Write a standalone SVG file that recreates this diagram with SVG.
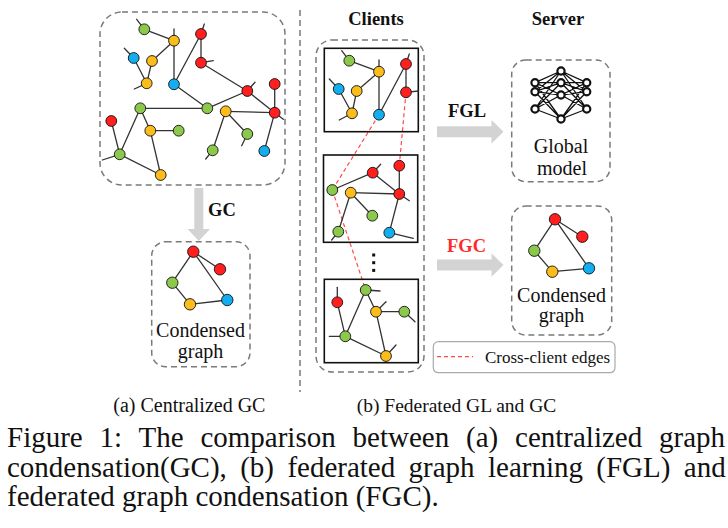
<svg xmlns="http://www.w3.org/2000/svg" width="728" height="528" viewBox="0 0 728 528">
<style>
  .e{stroke:#333;stroke-width:1.3;fill:none;stroke-linecap:round}
  .n{stroke:#111;stroke-width:0.9}
  .g{fill:#8cc84b}.y{fill:#fbbc1c}.r{fill:#ff1f1f}.b{fill:#13aef0}
  .dbox{fill:none;stroke:#7a7a7a;stroke-width:1.5;stroke-dasharray:6 4}
  .cbox{fill:none;stroke:#111;stroke-width:1.6}
  .arr{fill:#d3d3d3}
  .cross{stroke:#ff4a4a;stroke-width:1.2;stroke-dasharray:4 3;fill:none}
  .t{font-family:"Liberation Serif","Times New Roman",serif;fill:#111}
  .bold{font-weight:bold;font-size:18.5px}
  .lbl{font-size:20px}
  .nn{stroke:#111;stroke-width:1.3}
  .nc{fill:#fff;stroke:#111;stroke-width:2.2}
</style>

<!-- connectors -->
<g id="connectors">
  <path class="arr" d="M194.3,188 H203.3 V229 H210 L198.8,241 L187.6,229 H194.3 Z"/>
  <path class="arr" d="M437,126.2 H491.5 V120 L503.5,131.7 L491.5,143.4 V137.2 H437 Z"/>
  <path class="arr" d="M437,259.5 H491.5 V253.3 L503.5,265 L491.5,276.7 V270.5 H437 Z"/>
  <line class="cross" x1="379" y1="114.7" x2="332.3" y2="190"/>
  <line class="cross" x1="406" y1="92.3" x2="399.3" y2="165.7"/>
  <line class="cross" x1="332.3" y1="190" x2="365.7" y2="290"/>
</g>

<line x1="300" y1="10" x2="300" y2="392" stroke="#7a7a7a" stroke-width="1.5" stroke-dasharray="6 4"/>

<text class="t bold" x="376" y="25" text-anchor="middle">Clients</text>
<text class="t bold" x="558" y="25" text-anchor="middle">Server</text>
<text class="t bold" x="208" y="216">GC</text>
<text class="t bold" x="448" y="116.5">FGL</text>
<text class="t bold" x="447" y="251.5" style="fill:#ff2b2b">FGC</text>

<!-- centralized graph -->
<g id="centralized-graph">
  <rect class="dbox" x="100" y="12" width="185" height="173" rx="22"/>
  <g class="e">
    <line x1="144.3" y1="29.3" x2="174" y2="40.7"/>
    <line x1="144.3" y1="29.3" x2="136.7" y2="19.3"/>
    <line x1="174" y1="40.7" x2="174" y2="84.3"/>
    <line x1="174" y1="40.7" x2="174" y2="29"/>
    <line x1="174" y1="40.7" x2="152" y2="61"/>
    <line x1="152" y1="61" x2="146.7" y2="83.3"/>
    <line x1="133.7" y1="58" x2="146.7" y2="83.3"/>
    <line x1="133.7" y1="58" x2="124.3" y2="48.3"/>
    <line x1="146.7" y1="83.3" x2="134.3" y2="89"/>
    <line x1="201" y1="34" x2="204.3" y2="24"/>
    <line x1="201" y1="34" x2="201" y2="62.7"/>
    <line x1="201" y1="34" x2="174" y2="84.3"/>
    <line x1="201" y1="62.7" x2="213.3" y2="60.7"/>
    <line x1="201" y1="62.7" x2="247.3" y2="91"/>
    <line x1="247.3" y1="91" x2="255" y2="82.3"/>
    <line x1="247.3" y1="91" x2="207.3" y2="108.3"/>
    <line x1="174" y1="84.3" x2="207.3" y2="108.3"/>
    <line x1="247.3" y1="91" x2="274.7" y2="112.7"/>
    <line x1="274.7" y1="84" x2="274.7" y2="112.7"/>
    <line x1="274.7" y1="112.7" x2="283.3" y2="119.3"/>
    <line x1="140.3" y1="108.3" x2="207.3" y2="108.3"/>
    <line x1="225.7" y1="111.3" x2="274.7" y2="112.7"/>
    <line x1="225.7" y1="111.3" x2="247.3" y2="134"/>
    <line x1="225.7" y1="111.3" x2="212.7" y2="150.3"/>
    <line x1="247.3" y1="134" x2="241.7" y2="145.7"/>
    <line x1="212.7" y1="150.3" x2="205.7" y2="159"/>
    <line x1="264.3" y1="151" x2="274.7" y2="112.7"/>
    <line x1="140.3" y1="108.3" x2="150.3" y2="130.7"/>
    <line x1="140.3" y1="108.3" x2="119.7" y2="154.3"/>
    <line x1="111.3" y1="121" x2="119.7" y2="154.3"/>
    <line x1="150.3" y1="130.7" x2="178.7" y2="130.7"/>
    <line x1="150.3" y1="130.7" x2="160.7" y2="175"/>
    <line x1="119.7" y1="154.3" x2="160.7" y2="175"/>
    <line x1="119.7" y1="154.3" x2="102.3" y2="160"/>
  </g>
  <g class="n">
    <circle class="g" cx="144.3" cy="29.3" r="5.4"/>
    <circle class="y" cx="174" cy="40.7" r="5.4"/>
    <circle class="r" cx="201" cy="34" r="5.4"/>
    <circle class="b" cx="133.7" cy="58" r="5.4"/>
    <circle class="y" cx="152" cy="61" r="5.4"/>
    <circle class="r" cx="201" cy="62.7" r="5.4"/>
    <circle class="y" cx="146.7" cy="83.3" r="5.4"/>
    <circle class="b" cx="174" cy="84.3" r="5.4"/>
    <circle class="r" cx="247.3" cy="91" r="5.4"/>
    <circle class="r" cx="274.7" cy="84" r="5.4"/>
    <circle class="g" cx="140.3" cy="108.3" r="5.4"/>
    <circle class="g" cx="207.3" cy="108.3" r="5.4"/>
    <circle class="y" cx="225.7" cy="111.3" r="5.4"/>
    <circle class="r" cx="274.7" cy="112.7" r="5.4"/>
    <circle class="r" cx="111.3" cy="121" r="5.4"/>
    <circle class="y" cx="150.3" cy="130.7" r="5.4"/>
    <circle class="g" cx="178.7" cy="130.7" r="5.4"/>
    <circle class="g" cx="247.3" cy="134" r="5.4"/>
    <circle class="g" cx="119.7" cy="154.3" r="5.4"/>
    <circle class="g" cx="212.7" cy="150.3" r="5.4"/>
    <circle class="b" cx="264.3" cy="151" r="5.4"/>
    <circle class="y" cx="160.7" cy="175" r="5.4"/>
  </g>
</g>

<!-- condensed graph (centralized) -->
<g id="gc-condensed">
  <rect class="dbox" x="151.7" y="241.7" width="98.3" height="125" rx="14"/>
  <g class="e">
    <line x1="193.3" y1="251.7" x2="220" y2="269.3"/>
    <line x1="193.3" y1="251.7" x2="227.3" y2="300"/>
    <line x1="193.3" y1="251.7" x2="172.3" y2="282.7"/>
    <line x1="172.3" y1="282.7" x2="190" y2="304.3"/>
    <line x1="190" y1="304.3" x2="227.3" y2="300"/>
  </g>
  <g class="n">
    <circle class="r" cx="193.3" cy="251.7" r="5.7"/>
    <circle class="r" cx="220" cy="269.3" r="5.7"/>
    <circle class="g" cx="172.3" cy="282.7" r="5.7"/>
    <circle class="y" cx="190" cy="304.3" r="5.7"/>
    <circle class="b" cx="227.3" cy="300" r="5.7"/>
  </g>
  <text class="t lbl" x="200.5" y="336.5" text-anchor="middle">Condensed</text>
  <text class="t lbl" x="200.5" y="358" text-anchor="middle">graph</text>
</g>

<!-- clients -->
<g id="clients">
  <rect class="dbox" x="316" y="40" width="108" height="332" rx="16"/>
  <rect x="372.2" y="253.5" width="3" height="3" fill="#111"/>
  <rect x="372.2" y="261.2" width="3" height="3" fill="#111"/>
  <rect x="372.2" y="268.9" width="3" height="3" fill="#111"/>
</g>

<g id="client-1">
  <rect class="cbox" x="324.3" y="48.3" width="94" height="83.4"/>
  <g class="e">
    <line x1="349.3" y1="60.7" x2="341.7" y2="50.7"/>
    <line x1="349.3" y1="60.7" x2="379" y2="71.7"/>
    <line x1="379" y1="71.7" x2="379" y2="60"/>
    <line x1="379" y1="71.7" x2="379" y2="114.7"/>
    <line x1="379" y1="71.7" x2="356.7" y2="91"/>
    <line x1="356.7" y1="91" x2="352" y2="113.3"/>
    <line x1="338.7" y1="89" x2="352" y2="113.3"/>
    <line x1="338.7" y1="89" x2="329.3" y2="79"/>
    <line x1="352" y1="113.3" x2="339.3" y2="120"/>
    <line x1="406" y1="64" x2="409.3" y2="54"/>
    <line x1="406" y1="64" x2="406" y2="92.3"/>
    <line x1="406" y1="64" x2="379" y2="114.7"/>
    <line x1="406" y1="92.3" x2="418.3" y2="91"/>
  </g>
  <g class="n">
    <circle class="g" cx="349.3" cy="60.7" r="5.4"/>
    <circle class="y" cx="379" cy="71.7" r="5.4"/>
    <circle class="r" cx="406" cy="64" r="5.4"/>
    <circle class="b" cx="338.7" cy="89" r="5.4"/>
    <circle class="y" cx="356.7" cy="91" r="5.4"/>
    <circle class="r" cx="406" cy="92.3" r="5.4"/>
    <circle class="y" cx="352" cy="113.3" r="5.4"/>
    <circle class="b" cx="379" cy="114.7" r="5.4"/>
  </g>
</g>

<g id="client-2">
  <rect class="cbox" x="323.5" y="155" width="94.2" height="87.3"/>
  <g class="e">
    <line x1="372.7" y1="172.7" x2="380.7" y2="164.3"/>
    <line x1="332.3" y1="190" x2="372.7" y2="172.7"/>
    <line x1="372.7" y1="172.7" x2="399.3" y2="194"/>
    <line x1="399.3" y1="165.7" x2="399.3" y2="194"/>
    <line x1="350.7" y1="192.7" x2="399.3" y2="194"/>
    <line x1="399.3" y1="194" x2="409.3" y2="200.7"/>
    <line x1="350.7" y1="192.7" x2="372.3" y2="215.7"/>
    <line x1="350.7" y1="192.7" x2="338.3" y2="231.7"/>
    <line x1="338.3" y1="231.7" x2="331.7" y2="240"/>
    <line x1="399.3" y1="194" x2="389.3" y2="232.7"/>
    <line x1="389.3" y1="232.7" x2="413.3" y2="238.3"/>
  </g>
  <g class="n">
    <circle class="r" cx="372.7" cy="172.7" r="5.4"/>
    <circle class="r" cx="399.3" cy="165.7" r="5.4"/>
    <circle class="g" cx="332.3" cy="190" r="5.4"/>
    <circle class="y" cx="350.7" cy="192.7" r="5.4"/>
    <circle class="r" cx="399.3" cy="194" r="5.4"/>
    <circle class="g" cx="372.3" cy="215.7" r="5.4"/>
    <circle class="g" cx="338.3" cy="231.7" r="5.4"/>
    <circle class="b" cx="389.3" cy="232.7" r="5.4"/>
  </g>
</g>

<g id="client-3">
  <rect class="cbox" x="324.3" y="279.3" width="94" height="83.4"/>
  <g class="e">
    <line x1="365.7" y1="290" x2="380" y2="291"/>
    <line x1="337.3" y1="302.3" x2="337.3" y2="287.3"/>
    <line x1="337.3" y1="302.3" x2="345.3" y2="336.3"/>
    <line x1="365.7" y1="290" x2="345.3" y2="336.3"/>
    <line x1="365.7" y1="290" x2="376" y2="311.7"/>
    <line x1="376" y1="311.7" x2="386" y2="301.7"/>
    <line x1="376" y1="311.7" x2="404.3" y2="311.7"/>
    <line x1="404.3" y1="311.7" x2="415" y2="321.7"/>
    <line x1="376" y1="311.7" x2="386" y2="356"/>
    <line x1="345.3" y1="336.3" x2="386" y2="356"/>
    <line x1="345.3" y1="336.3" x2="329.3" y2="336.3"/>
    <line x1="386" y1="356" x2="396" y2="345"/>
  </g>
  <g class="n">
    <circle class="g" cx="365.7" cy="290" r="5.4"/>
    <circle class="r" cx="337.3" cy="302.3" r="5.4"/>
    <circle class="y" cx="376" cy="311.7" r="5.4"/>
    <circle class="g" cx="404.3" cy="311.7" r="5.4"/>
    <circle class="g" cx="345.3" cy="336.3" r="5.4"/>
    <circle class="y" cx="386" cy="356" r="5.4"/>
  </g>
</g>

<!-- server: global model -->
<g id="server-model">
  <rect class="dbox" x="511.7" y="60" width="98.3" height="121.7" rx="14"/>
  <g class="nn">
    <path d="M535,82.7 L561,71 M535,82.7 L561,82.7 M535,82.7 L561,95 M535,82.7 L561,119
             M535,91.7 L561,71 M535,91.7 L561,82.7 M535,91.7 L561,95 M535,91.7 L561,119
             M535,109 L561,71 M535,109 L561,82.7 M535,109 L561,95 M535,109 L561,119
             M586.7,82.7 L561,71 M586.7,82.7 L561,82.7 M586.7,82.7 L561,95 M586.7,82.7 L561,119
             M586.7,91.7 L561,71 M586.7,91.7 L561,82.7 M586.7,91.7 L561,95 M586.7,91.7 L561,119
             M586.7,109 L561,71 M586.7,109 L561,82.7 M586.7,109 L561,95 M586.7,109 L561,119"/>
  </g>
  <g class="nc">
    <circle cx="535" cy="82.7" r="3.6"/>
    <circle cx="535" cy="91.7" r="3.6"/>
    <circle cx="535" cy="109" r="3.6"/>
    <circle cx="561" cy="71" r="3.6"/>
    <circle cx="561" cy="82.7" r="3.6"/>
    <circle cx="561" cy="95" r="3.6"/>
    <circle cx="561" cy="119" r="3.6"/>
    <circle cx="586.7" cy="82.7" r="3.6"/>
    <circle cx="586.7" cy="91.7" r="3.6"/>
    <circle cx="586.7" cy="109" r="3.6"/>
  </g>
  <text class="t lbl" x="561" y="153.3" text-anchor="middle">Global</text>
  <text class="t lbl" x="562" y="175" text-anchor="middle">model</text>
</g>

<!-- server: condensed graph -->
<g id="server-condensed">
  <rect class="dbox" x="511.7" y="206" width="100" height="129" rx="14"/>
  <g class="e">
    <line x1="555" y1="219.3" x2="582.3" y2="236.7"/>
    <line x1="555" y1="219.3" x2="589" y2="268.3"/>
    <line x1="555" y1="219.3" x2="534.3" y2="250.7"/>
    <line x1="534.3" y1="250.7" x2="552.3" y2="271.7"/>
    <line x1="552.3" y1="271.7" x2="589" y2="268.3"/>
  </g>
  <g class="n">
    <circle class="r" cx="555" cy="219.3" r="5.7"/>
    <circle class="r" cx="582.3" cy="236.7" r="5.7"/>
    <circle class="g" cx="534.3" cy="250.7" r="5.7"/>
    <circle class="y" cx="552.3" cy="271.7" r="5.7"/>
    <circle class="b" cx="589" cy="268.3" r="5.7"/>
  </g>
  <text class="t lbl" x="561.5" y="301.5" text-anchor="middle">Condensed</text>
  <text class="t lbl" x="561.5" y="322" text-anchor="middle">graph</text>
</g>

<!-- legend -->
<g id="legend">
  <rect x="433.3" y="341.7" width="181.7" height="31" rx="5" fill="none" stroke="#aaa" stroke-width="1.2"/>
  <line class="cross" x1="437" y1="356.7" x2="473" y2="356.7"/>
  <text class="t" x="485" y="363" font-size="17">Cross-client edges</text>
</g>

<!-- captions -->
<text class="t" x="113.3" y="411.5" font-size="20">(a) Centralized GC</text>
<text class="t" x="356.7" y="411.5" font-size="19.5">(b) Federated GL and GC</text>
<g id="caption" class="t" font-size="29">
  <text x="7" y="447.3" word-spacing="9.6">Figure 1: The comparison between (a) centralized graph</text>
  <text x="7" y="476.7" word-spacing="6.1">condensation(GC), (b) federated graph learning (FGL) and</text>
  <text x="7" y="506">federated graph condensation (FGC).</text>
</g>
</svg>
